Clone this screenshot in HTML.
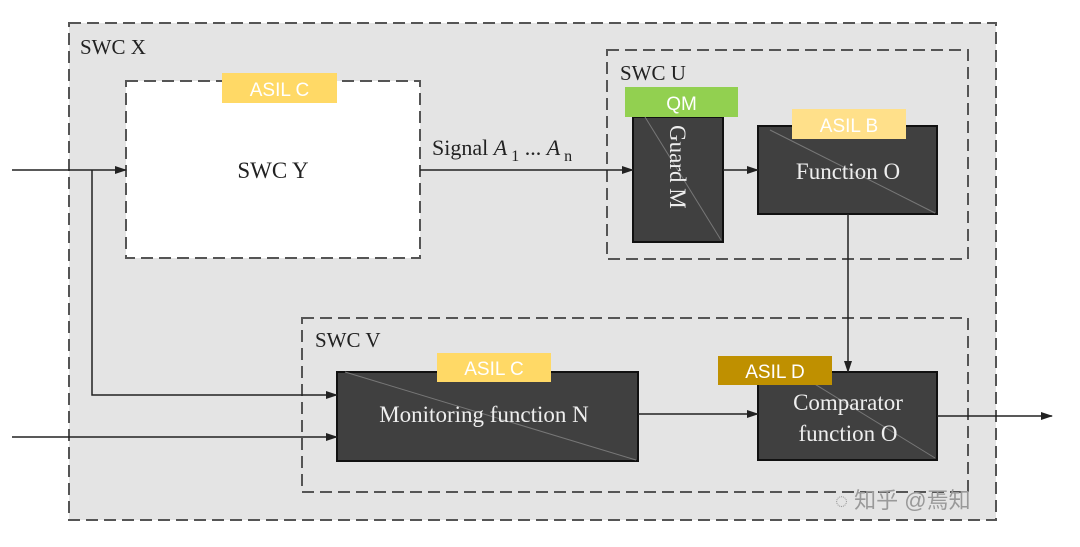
<!DOCTYPE html>
<html><head><meta charset="utf-8"><style>
html,body{margin:0;padding:0;background:#fff;}
svg{display:block;}
.serif{font-family:"Liberation Serif",serif;}
.sans{font-family:"Liberation Sans",sans-serif;}
</style></head><body>
<svg width="1080" height="547" viewBox="0 0 1080 547" xmlns="http://www.w3.org/2000/svg">
<defs>
<marker id="a" markerWidth="12" markerHeight="8" refX="11" refY="4" orient="auto" markerUnits="userSpaceOnUse">
<path d="M0,0 L12,4 L0,8 z" fill="#222"/></marker>
</defs>
<rect x="69" y="23" width="927" height="497" fill="#e4e4e4" stroke="#555" stroke-width="2" stroke-dasharray="12,6"/>
<text x="80" y="54" class="serif" font-size="21" fill="#222">SWC X</text>

<rect x="126" y="81" width="294" height="177" fill="#fff" stroke="#555" stroke-width="2" stroke-dasharray="12,6"/>
<rect x="222" y="73" width="115" height="30" fill="#ffd966"/>
<text x="279.5" y="96" text-anchor="middle" class="sans" font-size="19" fill="#fff">ASIL C</text>
<text x="273" y="178" text-anchor="middle" class="serif" font-size="23" fill="#222">SWC Y</text>

<rect x="607" y="50" width="361" height="209" fill="none" stroke="#555" stroke-width="2" stroke-dasharray="12,6"/>
<text x="620" y="80" class="serif" font-size="21" fill="#222">SWC U</text>

<rect x="633" y="117" width="90" height="125" fill="#404040" stroke="#111" stroke-width="2"/>
<line x1="645" y1="117" x2="721" y2="240" stroke="#777" stroke-width="1"/>
<rect x="625" y="87" width="113" height="30" fill="#92d050"/>
<text x="681.5" y="110" text-anchor="middle" class="sans" font-size="19" fill="#fff">QM</text>
<text x="0" y="0" transform="translate(670,125) rotate(90)" class="serif" font-size="23" fill="#eee">Guard M</text>

<rect x="758" y="126" width="179" height="88" fill="#404040" stroke="#111" stroke-width="2"/>
<line x1="770" y1="130" x2="935" y2="213" stroke="#777" stroke-width="1"/>
<rect x="792" y="109" width="114" height="30" fill="#ffe08a"/>
<text x="849" y="132" text-anchor="middle" class="sans" font-size="19" fill="#fff">ASIL B</text>
<text x="848" y="179" text-anchor="middle" class="serif" font-size="23" fill="#eee">Function O</text>

<rect x="302" y="318" width="666" height="174" fill="none" stroke="#555" stroke-width="2" stroke-dasharray="12,6"/>
<text x="315" y="347" class="serif" font-size="21" fill="#222">SWC V</text>

<rect x="337" y="372" width="301" height="89" fill="#404040" stroke="#111" stroke-width="2"/>
<line x1="345" y1="372" x2="636" y2="460" stroke="#777" stroke-width="1"/>
<rect x="437" y="353" width="114" height="29" fill="#ffd966"/>
<text x="494" y="375" text-anchor="middle" class="sans" font-size="19" fill="#fff">ASIL C</text>
<text x="484" y="422" text-anchor="middle" class="serif" font-size="23" fill="#eee">Monitoring function N</text>

<rect x="758" y="372" width="179" height="88" fill="#404040" stroke="#111" stroke-width="2"/>
<line x1="800" y1="375" x2="935" y2="458" stroke="#777" stroke-width="1"/>
<rect x="718" y="356" width="114" height="29" fill="#bf9000"/>
<text x="775" y="378" text-anchor="middle" class="sans" font-size="19" fill="#fff">ASIL D</text>
<text x="848" y="410" text-anchor="middle" class="serif" font-size="23" fill="#eee">Comparator</text>
<text x="848" y="441" text-anchor="middle" class="serif" font-size="23" fill="#eee">function O</text>

<g stroke="#222" stroke-width="1.5" fill="none">
<line x1="12" y1="170" x2="126" y2="170" marker-end="url(#a)"/>
<polyline points="92,170 92,395 337,395" marker-end="url(#a)"/>
<line x1="12" y1="437" x2="337" y2="437" marker-end="url(#a)"/>
<line x1="420" y1="170" x2="633" y2="170" marker-end="url(#a)"/>
<line x1="723" y1="170" x2="758" y2="170" marker-end="url(#a)"/>
<line x1="848" y1="214" x2="848" y2="372" marker-end="url(#a)"/>
<line x1="638" y1="414" x2="758" y2="414" marker-end="url(#a)"/>
<line x1="937" y1="416" x2="1052" y2="416" marker-end="url(#a)"/>
</g>
<text x="432" y="155" class="serif" font-size="22" fill="#222">Signal <tspan font-style="italic">A</tspan><tspan font-size="16" dy="6"> 1</tspan><tspan dy="-6"> ... </tspan><tspan font-style="italic">A</tspan><tspan font-size="16" dy="6"> n</tspan></text>

<text x="835" y="508" class="sans" font-size="22" fill="#999">◌ 知乎 @焉知</text>
</svg>
</body></html>
